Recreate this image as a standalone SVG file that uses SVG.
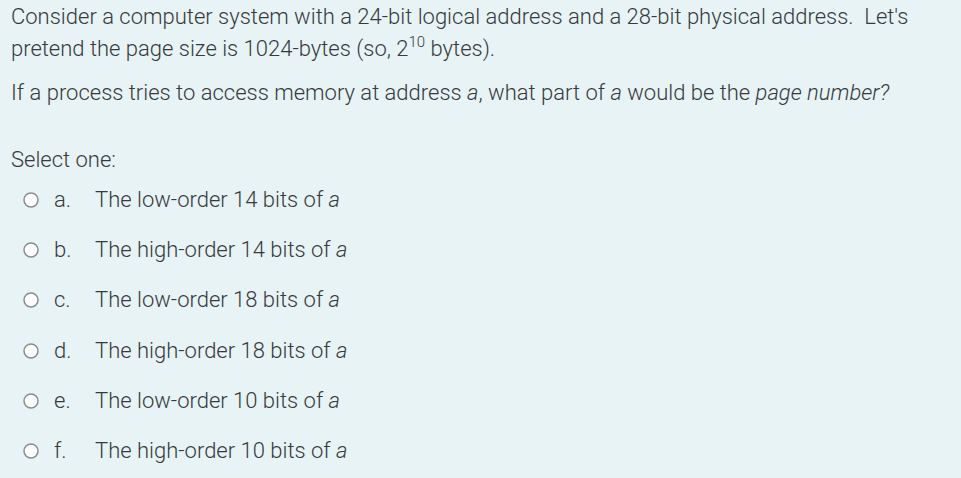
<svg xmlns="http://www.w3.org/2000/svg" width="961" height="478" viewBox="0 0 961 478">
<style>
text{font-family:Roboto,"Liberation Sans",sans-serif;font-size:22px;font-weight:300;fill:#373a3c}
.r{fill:#fff;stroke:#8a8d90;stroke-width:1.5}
</style>
<rect width="961" height="478" fill="#e7f3f5"/>
<text x="11" y="24" xml:space="preserve">Consider a computer system with a 24-bit logical address and a 28-bit physical address.  Let's</text>
<text x="11" y="56">pretend the page size is 1024-bytes (so, 2<tspan dy="-9" font-size="15">10</tspan><tspan dy="9"> bytes).</tspan></text>
<text x="11" y="100">If a process tries to access memory at address <tspan font-style="italic">a</tspan>, what part of <tspan font-style="italic">a</tspan> would be the <tspan font-style="italic">page number?</tspan></text>
<text x="11" y="167">Select one:</text>
<g id="opt-a"><circle class="r" cx="31" cy="200" r="7"/><text x="54" y="207">a.</text><text x="95" y="207">The low-order 14 bits of <tspan font-style="italic">a</tspan></text></g>
<g id="opt-b"><circle class="r" cx="31" cy="250" r="7"/><text x="54" y="257">b.</text><text x="95" y="257">The high-order 14 bits of <tspan font-style="italic">a</tspan></text></g>
<g id="opt-c"><circle class="r" cx="31" cy="300" r="7"/><text x="54" y="307">c.</text><text x="95" y="307">The low-order 18 bits of <tspan font-style="italic">a</tspan></text></g>
<g id="opt-d"><circle class="r" cx="31" cy="351" r="7"/><text x="54" y="358">d.</text><text x="95" y="358">The high-order 18 bits of <tspan font-style="italic">a</tspan></text></g>
<g id="opt-e"><circle class="r" cx="31" cy="401" r="7"/><text x="54" y="408">e.</text><text x="95" y="408">The low-order 10 bits of <tspan font-style="italic">a</tspan></text></g>
<g id="opt-f"><circle class="r" cx="31" cy="451" r="7"/><text x="54" y="458">f.</text><text x="95" y="458">The high-order 10 bits of <tspan font-style="italic">a</tspan></text></g>
</svg>
